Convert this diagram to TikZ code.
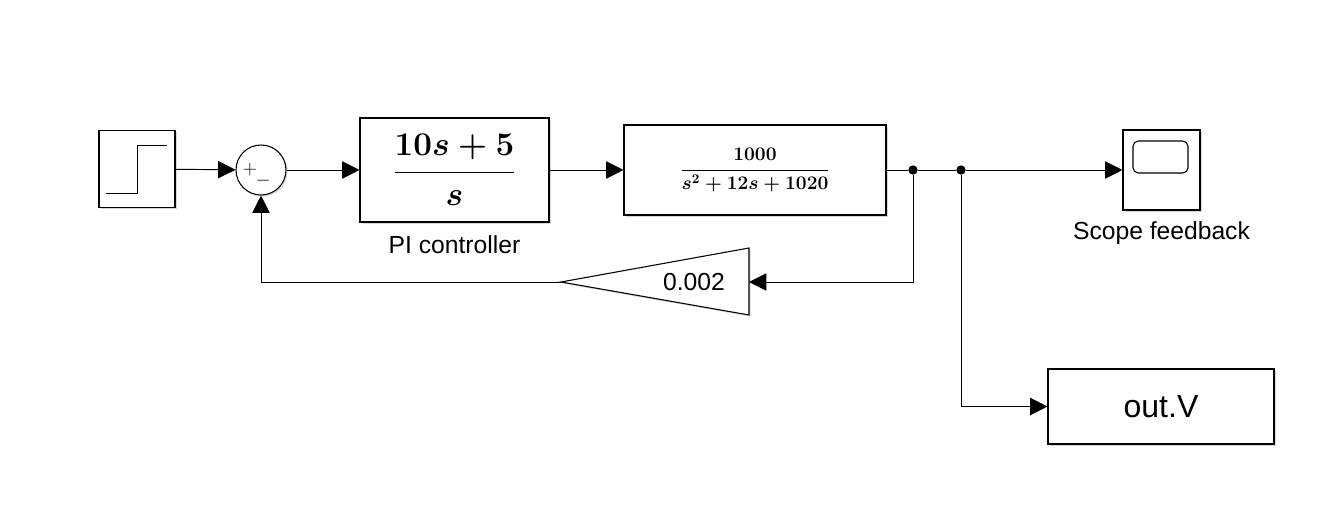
\documentclass[tikz,border=0pt]{standalone}
\usepackage{fontspec}
\setmainfont{Liberation Sans}
\usetikzlibrary{arrows.meta,positioning,shadows}
\begin{document}
\begin{tikzpicture}[x=0.75pt,y=-0.75pt,
    block/.style={rectangle, draw, thick, fill=white, inner sep=0pt,
                  drop shadow={shadow xshift=1.2pt, shadow yshift=-1.2pt, fill=black!30}},
    sig/.style={-{Triangle[length=13pt,width=13pt]}, line width=0.7pt},
    line/.style={line width=0.7pt},
    dot/.style={circle, fill, inner sep=0pt, minimum size=7pt},
    lbl/.style={font=\fontsize{18.5}{22}\selectfont},
    sgn/.style={font=\fontsize{14}{14}\selectfont, inner sep=0pt},
    tf/.style={font=\fontsize{#1}{#1}\selectfont\mathversion{bold}}
]
    \useasboundingbox (0,0) rectangle (1340,530);

    % blocks
    \node[block, minimum width=57pt, minimum height=57.75pt] (step) at (137,169) {};
    \draw[line] (106,193) -- (137,193) -- (137,145) -- (167,145);
    \node[block, circle, minimum size=37.5pt] (sum) at (261,170) {};
    \node[sgn] (plus) at (250,170) {$+$};
    \node[sgn] (minus) at (263,181) {$-$};
    \node[block, tf=24, minimum width=141.75pt, minimum height=78pt] (pi) at (454.5,170)
        {$\displaystyle\frac{10s+5}{s}$};
    \node[lbl, below=6pt of pi] (pilbl) {PI controller};
    \node[block, tf=14, minimum width=196.5pt, minimum height=67.5pt] (plant) at (755,170)
        {$\displaystyle\frac{1000}{s^2+12s+1020}$};
    \node[dot] (d1) at (913,170) {};
    \node[dot] (d2) at (961,170) {};
    \node[block, minimum width=57.75pt, minimum height=60pt] (scope) at (1161.5,170) {};
    \draw[line, rounded corners=4pt, thick] (1133,141) rectangle (1188,173);
    \node[lbl, below=5pt of scope] (scopelbl) {Scope feedback};
    \draw[block] (749,248) -- (749,315) -- (561,282) -- cycle;
    \coordinate (gainin) at (749,282);
    \coordinate (gainout) at (561,282);
    \node[lbl] (gain) at (694,282) {0.002};
    \node[block, minimum width=169.5pt, minimum height=56.25pt] (out) at (1161,406.5)
        {\fontsize{24}{28}\selectfont out.V};

    % signals
    \draw[sig] (step) -- (sum);
    \draw[sig] (sum) -- (pi);
    \draw[sig] (pi) -- (plant);
    \draw[line] (plant) -- (d1) -- (d2);
    \draw[sig] (d2) -- (scope);
    \draw[sig] (d1) |- (gainin);
    \draw[sig] (gainout) -| (sum);
    \draw[sig] (d2) |- (out);
\end{tikzpicture}
\end{document}
